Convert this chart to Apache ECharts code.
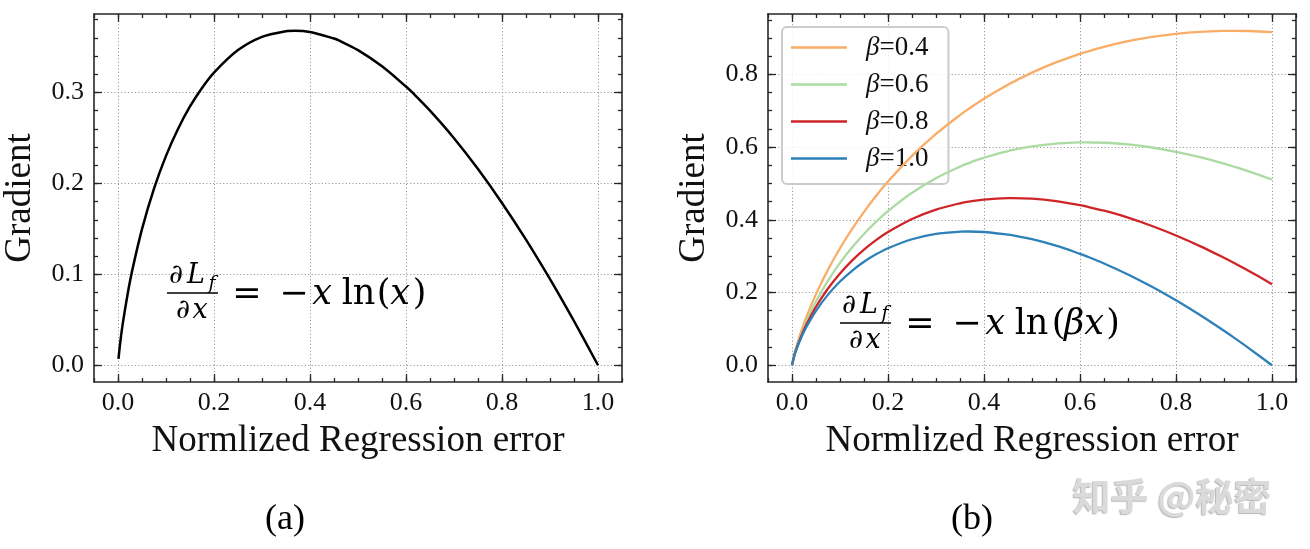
<!DOCTYPE html>
<html><head><meta charset="utf-8">
<script src="https://cdn.jsdelivr.net/npm/echarts@6/dist/echarts.min.js"></script>
<style>html,body{margin:0;padding:0;background:#fff}#c{width:1310px;height:549px}</style>
</head><body><div id="c"></div>
<script>
// ---- data ----
const xLeft = [0.001,0.005,0.01,0.02,0.03,0.05,0.075,0.1,0.125,0.15,0.175,0.2,0.25,0.3,0.35,0.368,0.4,0.45,0.46,0.5,0.55,0.6,0.613,0.65,0.7,0.75,0.8,0.85,0.9,0.92,0.95,1.0];
const gradLeft = [0.0069,0.0265,0.0461,0.0782,0.1052,0.1498,0.1943,0.2303,0.2599,0.2846,0.3050,0.3219,0.3466,0.3612,0.3674,0.3679,0.3665,0.3593,0.3572,0.3466,0.3288,0.3065,0.3000,0.2800,0.2497,0.2158,0.1785,0.1381,0.0948,0.0767,0.0487,0.0];
const xRight = [0,0.005,0.01,0.02,0.03,0.05,0.075,0.1,0.125,0.15,0.175,0.2,0.25,0.3,0.35,0.368,0.4,0.45,0.46,0.5,0.55,0.6,0.613,0.65,0.7,0.75,0.8,0.85,0.9,0.92,0.95,1.0];
const beta04 = [0,0.0311,0.0553,0.0965,0.1327,0.1956,0.2630,0.3219,0.3745,0.4220,0.4654,0.5052,0.5757,0.6361,0.6881,0.7051,0.7330,0.7716,0.7787,0.8048,0.8328,0.8563,0.8617,0.8756,0.8911,0.9030,0.9115,0.9170,0.9195,0.9197,0.9192,0.9163];
const beta06 = [0,0.0291,0.0512,0.0884,0.1205,0.1753,0.2326,0.2814,0.3238,0.3612,0.3944,0.4241,0.4743,0.5144,0.5462,0.5559,0.5708,0.5892,0.5922,0.6020,0.6097,0.6130,0.6131,0.6120,0.6073,0.5989,0.5871,0.5723,0.5545,0.5466,0.5340,0.5108];
const beta08 = [0,0.0276,0.0483,0.0827,0.1119,0.1610,0.2110,0.2526,0.2878,0.3181,0.3440,0.3665,0.4024,0.4281,0.4455,0.4500,0.4557,0.4597,0.4598,0.4582,0.4515,0.4404,0.4368,0.4250,0.4059,0.3831,0.3570,0.3277,0.2956,0.2820,0.2607,0.2231];
const beta10 = [0,0.0265,0.0461,0.0782,0.1052,0.1498,0.1943,0.2303,0.2599,0.2846,0.3050,0.3219,0.3466,0.3612,0.3674,0.3679,0.3665,0.3593,0.3572,0.3466,0.3288,0.3065,0.3000,0.2800,0.2497,0.2158,0.1785,0.1381,0.0948,0.0767,0.0487,0];
const seriesNames = ['β=0.4','β=0.6','β=0.8','β=1.0'];
const seriesColors = ['#f9ad66','#abdba2','#cf2428','#2e81b8'];
const xMajorTicks = [0,0.2,0.4,0.6,0.8,1.0];
const xMinorTicks = [-0.05,0,0.05,0.1,0.15,0.2,0.25,0.3,0.35,0.4,0.45,0.5,0.55,0.6,0.65,0.7,0.75,0.8,0.85,0.9,0.95,1.0,1.05];
const yLeftMajor = [0,0.1,0.2,0.3];
const yLeftMinor = [0,0.02,0.04,0.06,0.08,0.1,0.12,0.14,0.16,0.18,0.2,0.22,0.24,0.26,0.28,0.3,0.32,0.34,0.36,0.38];
const yRightMajor = [0,0.2,0.4,0.6,0.8];
const yRightMinor = [0,0.05,0.1,0.15,0.2,0.25,0.3,0.35,0.4,0.45,0.5,0.55,0.6,0.65,0.7,0.75,0.8,0.85,0.9,0.95];
const xTitle = 'Normlized Regression error';
const yTitle = 'Gradient';

// ---- styling ----
const SERIF = '"Liberation Serif", "DejaVu Serif", serif';
const MATH = '"DejaVu Serif", serif';
const AX = '#262626';
const labStyle = {fontFamily: SERIF, fontSize: 26, color: '#111'};
const gridLine = {color: '#9a9a9a', width: 1, type: [1.2, 2.2]};
const tickLS = {color: AX, width: 1.3};

function xAxes(g, min, max) {
  const base = {type:'value', gridIndex:g, min, max, axisLine:{show:false,onZero:false}, axisLabel:{show:false}, splitLine:{show:false}};
  return [
    {...base, position:'bottom',
      axisLine:{show:true,onZero:false,lineStyle:{color:AX,width:1.6}},
      axisTick:{show:true,inside:true,length:8,customValues:xMajorTicks,lineStyle:tickLS},
      axisLabel:{show:true,customValues:xMajorTicks,formatter:v=>v.toFixed(1),margin:8,...labStyle},
      splitLine:{show:true,lineStyle:gridLine},
      name:xTitle,nameLocation:'middle',nameGap:41,nameTextStyle:{fontFamily:SERIF,fontSize:37,color:'#111'}},
    {...base, position:'bottom', axisTick:{show:true,inside:true,length:4,customValues:xMinorTicks,lineStyle:tickLS}},
    {...base, position:'top',
      axisLine:{show:true,onZero:false,lineStyle:{color:AX,width:1.6}},
      axisTick:{show:true,inside:true,length:8,customValues:xMajorTicks,lineStyle:tickLS}},
    {...base, position:'top', axisTick:{show:true,inside:true,length:4,customValues:xMinorTicks,lineStyle:tickLS}}
  ];
}
function yAxes(g, min, max, major, minor) {
  const base = {type:'value', gridIndex:g, min, max, axisLine:{show:false,onZero:false}, axisLabel:{show:false}, splitLine:{show:false}};
  return [
    {...base, position:'left',
      axisLine:{show:true,onZero:false,lineStyle:{color:AX,width:1.6}},
      axisTick:{show:true,inside:true,length:8,customValues:major,lineStyle:tickLS},
      axisLabel:{show:true,customValues:major,formatter:v=>v.toFixed(1),margin:10,...labStyle},
      splitLine:{show:true,lineStyle:gridLine},
      name:yTitle,nameLocation:'middle',nameGap:55,nameRotate:90,nameTextStyle:{fontFamily:SERIF,fontSize:37,color:'#111'}},
    {...base, position:'left', axisTick:{show:true,inside:true,length:4,customValues:minor,lineStyle:tickLS}},
    {...base, position:'right',
      axisLine:{show:true,onZero:false,lineStyle:{color:AX,width:1.6}},
      axisTick:{show:true,inside:true,length:8,customValues:major,lineStyle:tickLS}},
    {...base, position:'right', axisTick:{show:true,inside:true,length:4,customValues:minor,lineStyle:tickLS}}
  ];
}

// formula tokens: [text, dx, baseline dy, size, italic]
const fracTokens = [
  ['∂', 9, -22, 27, false], ['L', 29, -22, 27, true], ['f', 45, -16, 19, true],
  ['∂', 16, 13, 27, false], ['x', 33, 13, 27, true],
  ['=', 80, 0, 35, false], ['−', 127, 0, 35, false], ['x', 155, 0, 35, true], ['ln', 191.5, 0, 35, false]
];
const tailLeft = [['(', 216.5, 0, 35, false], ['x', 233, 0, 35, true], [')', 252.5, 0, 35, false]];
const tailRight = [['(', 218.5, 0, 35, false], ['β', 234, 0, 35, true], ['x', 254, 0, 35, true], [')', 273, 0, 35, false]];

function formula(ox, oy, tokens) {
  const els = tokens.map(t => ({
    type:'text', x: ox + t[1], y: oy + t[2] - 0.35 * t[3], z: 50,
    style:{text:t[0], font:(t[4]?'italic ':'') + t[3] + 'px ' + MATH, fill:'#000',
      align:'center', verticalAlign:'middle', textAlign:'center', textVerticalAlign:'middle'}
  }));
  els.push({type:'line', z:50, shape:{x1:ox, y1:oy-14, x2:ox+51, y2:oy-14}, style:{stroke:'#000', lineWidth:1.5}});
  return els;
}

const graphics = [].concat(
  formula(167, 307, fracTokens.concat(tailLeft)),
  formula(840, 337, fracTokens.concat(tailRight)),
  [
    {type:'text', x:285, y:520, style:{text:'(a)', font:'36px "Liberation Serif"', fill:'#000', align:'center', verticalAlign:'middle', textAlign:'center', textVerticalAlign:'middle'}},
    {type:'text', x:972, y:520, style:{text:'(b)', font:'36px "Liberation Serif"', fill:'#000', align:'center', verticalAlign:'middle', textAlign:'center', textVerticalAlign:'middle'}},
    {type:'text', x:1172, y:496, style:{text:'知乎 @秘密', font:'bold 38px "Noto Sans CJK SC"', fill:'#dadada',
      textShadowColor:'rgba(90,90,90,0.45)', textShadowOffsetX:-1, textShadowOffsetY:1, textShadowBlur:1,
      align:'center', verticalAlign:'middle', textAlign:'center', textVerticalAlign:'middle'}}
  ]
);

const rightSeriesData = [beta04, beta06, beta08, beta10];
const series = [{
  type:'line', xAxisIndex:0, yAxisIndex:0, symbol:'none', showSymbol:false, smooth:0.3,
  data: xLeft.map((x,i)=>[x, gradLeft[i]]), lineStyle:{color:'#000', width:2.5}, z:5
}].concat(rightSeriesData.map((arr,k)=>({
  type:'line', name:seriesNames[k], xAxisIndex:4, yAxisIndex:4, symbol:'none', showSymbol:false, smooth:0.3,
  data: xRight.map((x,i)=>[x, arr[i]]), itemStyle:{color:seriesColors[k]}, lineStyle:{color:seriesColors[k], width:2.3}, z:5
})));

const chart = echarts.init(document.getElementById('c'), null, {renderer:'canvas'});
chart.setOption({
  animation:false,
  backgroundColor:'#ffffff',
  grid:[
    {left:94, top:14, width:528, height:368, containLabel:false},
    {left:768, top:14, width:528, height:368, containLabel:false}
  ],
  xAxis: xAxes(0, -0.05, 1.05).concat(xAxes(1, -0.05, 1.05)),
  yAxis: yAxes(0, -0.0184, 0.3863, yLeftMajor, yLeftMinor).concat(yAxes(1, -0.046, 0.966, yRightMajor, yRightMinor)),
  legend:{
    data:seriesNames, orient:'vertical', left:782, top:27, icon:'rect', itemWidth:56, itemHeight:2.6, itemGap:10,
    padding:[7,20,12,9], backgroundColor:'rgba(255,255,255,0.85)', borderColor:'#cccccc', borderWidth:2, borderRadius:5,
    textStyle:{fontFamily:SERIF, fontSize:27, color:'#111', lineHeight:26, padding:[0,0,0,14],
      rich:{b:{fontFamily:SERIF, fontSize:27, fontStyle:'italic', color:'#111', lineHeight:26},
            n:{fontFamily:SERIF, fontSize:27, color:'#111', lineHeight:26}}},
    formatter: name => '{b|β}{n|' + name.slice(1) + '}'
  },
  series,
  graphic:{elements:graphics}
});
</script></body></html>
